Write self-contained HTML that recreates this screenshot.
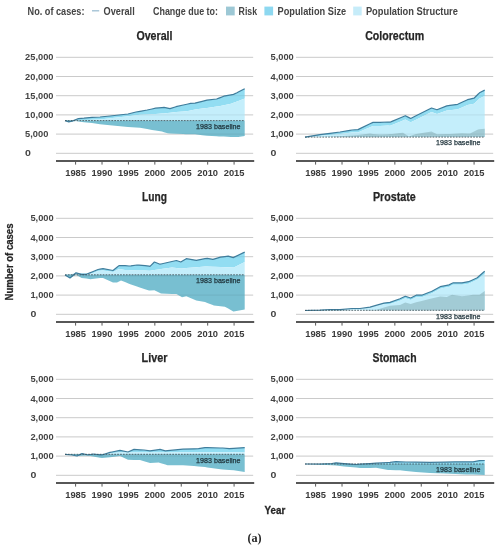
<!DOCTYPE html>
<html><head><meta charset="utf-8"><style>
html,body{margin:0;padding:0;background:#fff;width:499px;height:550px;overflow:hidden;font-family:"Liberation Sans",sans-serif;}
svg{display:block;will-change:transform;}
</style></head><body>
<svg width="499" height="550" viewBox="0 0 499 550">
<rect width="499" height="550" fill="#ffffff"/>
<text x="27.60" y="14.50" font-family="Liberation Sans" font-size="10.3" font-weight="bold" fill="#444444" textLength="56.90" lengthAdjust="spacingAndGlyphs">No. of cases:</text>
<line x1="92" y1="10.8" x2="99.2" y2="10.8" stroke="#9dbfd3" stroke-width="1.3"/>
<text x="103.60" y="14.50" font-family="Liberation Sans" font-size="10.3" font-weight="bold" fill="#444444" textLength="31.10" lengthAdjust="spacingAndGlyphs">Overall</text>
<text x="153.00" y="14.50" font-family="Liberation Sans" font-size="10.3" font-weight="bold" fill="#444444" textLength="65.00" lengthAdjust="spacingAndGlyphs">Change due to:</text>
<rect x="226" y="6.6" width="8.7" height="8.8" fill="#9dc8d5"/>
<text x="238.60" y="14.50" font-family="Liberation Sans" font-size="10.3" font-weight="bold" fill="#444444" textLength="18.50" lengthAdjust="spacingAndGlyphs">Risk</text>
<rect x="264.4" y="6.6" width="8.7" height="8.8" fill="#8dd8f0"/>
<text x="277.60" y="14.50" font-family="Liberation Sans" font-size="10.3" font-weight="bold" fill="#444444" textLength="68.60" lengthAdjust="spacingAndGlyphs">Population Size</text>
<rect x="353.2" y="6.6" width="8.5" height="8.8" fill="#c6ecf9"/>
<text x="365.90" y="14.50" font-family="Liberation Sans" font-size="10.3" font-weight="bold" fill="#444444" textLength="92.00" lengthAdjust="spacingAndGlyphs">Population Structure</text>
<g transform="translate(13,262) rotate(-90)"><text x="0" y="0" text-anchor="middle" font-family="Liberation Sans" font-size="10" font-weight="bold" fill="#262626" stroke="#262626" stroke-width="0.25" textLength="77" lengthAdjust="spacingAndGlyphs">Number of cases</text></g>
<text x="264.60" y="513.90" font-family="Liberation Sans" font-size="10" font-weight="bold" fill="#262626" textLength="20.60" lengthAdjust="spacingAndGlyphs" stroke="#262626" stroke-width="0.3">Year</text>
<text x="247.40" y="542.20" font-family="Liberation Serif" font-size="11.6" font-weight="bold" fill="#262626" textLength="14.20" lengthAdjust="spacingAndGlyphs">(a)</text>
<text x="136.40" y="40.20" font-family="Liberation Sans" font-size="12.3" font-weight="bold" fill="#262626" textLength="36.10" lengthAdjust="spacingAndGlyphs" stroke="#262626" stroke-width="0.25">Overall</text>
<text x="25.10" y="60.40" font-family="Liberation Sans" font-size="9.5" font-weight="bold" fill="#444444" textLength="28.35" lengthAdjust="spacingAndGlyphs">25,000</text>
<text x="25.10" y="79.60" font-family="Liberation Sans" font-size="9.5" font-weight="bold" fill="#444444" textLength="28.35" lengthAdjust="spacingAndGlyphs">20,000</text>
<text x="25.10" y="98.80" font-family="Liberation Sans" font-size="9.5" font-weight="bold" fill="#444444" textLength="28.35" lengthAdjust="spacingAndGlyphs">15,000</text>
<text x="25.10" y="118.00" font-family="Liberation Sans" font-size="9.5" font-weight="bold" fill="#444444" textLength="28.35" lengthAdjust="spacingAndGlyphs">10,000</text>
<text x="25.10" y="137.20" font-family="Liberation Sans" font-size="9.5" font-weight="bold" fill="#444444" textLength="23.30" lengthAdjust="spacingAndGlyphs">5,000</text>
<text x="25.10" y="156.40" font-family="Liberation Sans" font-size="9.5" font-weight="bold" fill="#444444" textLength="5.90" lengthAdjust="spacingAndGlyphs">0</text>
<line x1="56" y1="57.30" x2="253.2" y2="57.30" stroke="#dadada" stroke-width="1"/>
<line x1="56" y1="76.50" x2="253.2" y2="76.50" stroke="#dadada" stroke-width="1"/>
<line x1="56" y1="95.70" x2="253.2" y2="95.70" stroke="#dadada" stroke-width="1"/>
<line x1="56" y1="114.90" x2="253.2" y2="114.90" stroke="#dadada" stroke-width="1"/>
<line x1="56" y1="134.10" x2="253.2" y2="134.10" stroke="#dadada" stroke-width="1"/>
<line x1="56" y1="153.30" x2="253.2" y2="153.30" stroke="#dadada" stroke-width="1"/>
<polygon fill="#92ddf2" points="65.0,120.6 68.8,121.9 72.8,120.8 76.0,119.5 78.4,118.6 84.0,118.2 92.0,117.4 100.0,117.0 110.0,116.0 128.0,114.0 136.0,112.0 140.0,111.3 147.2,110.0 152.0,109.0 155.6,108.2 162.0,107.6 164.0,107.4 167.6,108.1 170.0,108.6 176.0,106.7 183.3,105.0 185.7,104.5 188.0,104.0 190.5,103.4 195.0,103.2 202.2,101.4 207.0,100.2 216.6,99.0 219.0,98.1 223.8,96.2 231.0,94.9 233.5,94.4 237.0,92.7 238.3,92.0 244.7,88.7 244.7,98.5 238.3,101.0 237.0,101.5 233.5,102.8 231.0,103.8 223.8,105.2 219.0,106.2 216.6,106.6 207.0,108.0 202.2,108.6 195.0,109.6 190.5,110.4 188.0,110.9 185.7,111.3 183.3,111.5 176.0,112.0 170.0,112.8 167.6,113.0 164.0,113.5 162.0,113.6 155.6,114.0 152.0,114.2 147.2,114.4 140.0,114.8 136.0,115.3 128.0,116.2 110.0,118.2 100.0,119.4 92.0,119.7 84.0,120.0 78.4,120.2 76.0,120.3 72.8,120.4 68.8,120.5 65.0,120.6"/>
<polygon fill="#c4eefb" points="65.0,120.6 68.8,120.5 72.8,120.4 76.0,120.3 78.4,120.2 84.0,120.0 92.0,119.7 100.0,119.4 110.0,118.2 128.0,116.2 136.0,115.3 140.0,114.8 147.2,114.4 152.0,114.2 155.6,114.0 162.0,113.6 164.0,113.5 167.6,113.0 170.0,112.8 176.0,112.0 183.3,111.5 185.7,111.3 188.0,110.9 190.5,110.4 195.0,109.6 202.2,108.6 207.0,108.0 216.6,106.6 219.0,106.2 223.8,105.2 231.0,103.8 233.5,102.8 237.0,101.5 238.3,101.0 244.7,98.5 244.7,120.6 238.3,120.6 237.0,120.6 233.5,120.6 231.0,120.6 223.8,120.6 219.0,120.6 216.6,120.6 207.0,120.6 202.2,120.6 195.0,120.6 190.5,120.6 188.0,120.6 185.7,120.6 183.3,120.6 176.0,120.6 170.0,120.6 167.6,120.6 164.0,120.6 162.0,120.6 155.6,120.6 152.0,120.6 147.2,120.6 140.0,120.6 136.0,120.6 128.0,120.6 110.0,120.6 100.0,120.6 92.0,120.6 84.0,120.6 78.4,120.6 76.0,120.6 72.8,120.6 68.8,120.6 65.0,120.6"/>
<polygon fill="#78bfd1" points="65.0,120.6 68.8,120.6 72.8,120.6 76.0,120.6 78.4,120.6 84.0,120.6 92.0,120.6 100.0,120.6 110.0,120.6 128.0,120.6 136.0,120.6 140.0,120.6 147.2,120.6 152.0,120.6 155.6,120.6 162.0,120.6 164.0,120.6 167.6,120.6 170.0,120.6 176.0,120.6 183.3,120.6 185.7,120.6 188.0,120.6 190.5,120.6 195.0,120.6 202.2,120.6 207.0,120.6 216.6,120.6 219.0,120.6 223.8,120.6 231.0,120.6 233.5,120.6 237.0,120.6 238.3,120.6 244.7,120.6 244.7,136.0 238.3,136.9 237.0,137.1 233.5,137.0 231.0,137.0 223.8,136.6 219.0,136.4 216.6,136.3 207.0,135.8 202.2,135.2 195.0,134.2 190.5,134.3 188.0,134.3 185.7,134.2 183.3,134.1 176.0,133.8 170.0,133.4 167.6,133.2 164.0,132.2 162.0,131.6 155.6,130.5 152.0,129.9 147.2,129.1 140.0,127.8 136.0,127.5 128.0,127.0 110.0,125.3 100.0,124.3 92.0,123.0 84.0,122.3 78.4,121.4 76.0,121.0 72.8,121.4 68.8,121.9 65.0,120.6"/>
<polygon fill="#a2cbd5" points="65.0,120.6 68.8,120.6 72.8,120.6 76.0,120.6 78.4,120.6 84.0,120.6 92.0,120.6 100.0,120.6 110.0,120.6 128.0,120.6 136.0,120.6 140.0,120.6 147.2,120.6 152.0,120.6 155.6,120.6 162.0,120.6 164.0,120.6 167.6,120.6 170.0,120.6 176.0,120.6 183.3,120.6 185.7,120.6 188.0,120.6 190.5,120.6 195.0,120.6 202.2,120.6 207.0,120.6 216.6,120.6 219.0,120.6 223.8,120.6 231.0,120.6 233.5,120.6 237.0,120.6 238.3,120.6 244.7,120.6 244.7,120.6 238.3,120.6 237.0,120.6 233.5,120.6 231.0,120.6 223.8,120.6 219.0,120.6 216.6,120.6 207.0,120.6 202.2,120.6 195.0,120.6 190.5,120.6 188.0,120.6 185.7,120.6 183.3,120.6 176.0,120.6 170.0,120.6 167.6,120.6 164.0,120.6 162.0,120.6 155.6,120.6 152.0,120.6 147.2,120.6 140.0,120.6 136.0,120.6 128.0,120.6 110.0,120.6 100.0,120.6 92.0,120.6 84.0,120.6 78.4,120.6 76.0,120.6 72.8,120.6 68.8,120.6 65.0,120.6"/>
<line x1="56" y1="57.30" x2="253.2" y2="57.30" stroke="#000" stroke-opacity="0.07" stroke-width="1"/>
<line x1="56" y1="76.50" x2="253.2" y2="76.50" stroke="#000" stroke-opacity="0.07" stroke-width="1"/>
<line x1="56" y1="95.70" x2="253.2" y2="95.70" stroke="#000" stroke-opacity="0.07" stroke-width="1"/>
<line x1="56" y1="114.90" x2="253.2" y2="114.90" stroke="#000" stroke-opacity="0.07" stroke-width="1"/>
<line x1="56" y1="134.10" x2="253.2" y2="134.10" stroke="#000" stroke-opacity="0.07" stroke-width="1"/>
<line x1="56" y1="153.30" x2="253.2" y2="153.30" stroke="#000" stroke-opacity="0.07" stroke-width="1"/>
<polyline fill="none" stroke="#3f7d9c" stroke-width="1.2" stroke-linejoin="round" points="65.0,120.6 68.8,121.9 72.8,120.8 76.0,119.5 78.4,118.6 84.0,118.2 92.0,117.4 100.0,117.0 110.0,116.0 128.0,114.0 136.0,112.0 140.0,111.3 147.2,110.0 152.0,109.0 155.6,108.2 162.0,107.6 164.0,107.4 167.6,108.1 170.0,108.6 176.0,106.7 183.3,105.0 185.7,104.5 188.0,104.0 190.5,103.4 195.0,103.2 202.2,101.4 207.0,100.2 216.6,99.0 219.0,98.1 223.8,96.2 231.0,94.9 233.5,94.4 237.0,92.7 238.3,92.0 244.7,88.7"/>
<line x1="65.0" y1="120.60" x2="244.7" y2="120.60" stroke="#3a4a50" stroke-width="0.8" stroke-dasharray="1.7 1.2"/>
<text x="196.10" y="128.80" font-family="Liberation Sans" font-size="7.4" font-weight="normal" fill="#1f333b" textLength="44.40" lengthAdjust="spacingAndGlyphs" stroke="#1f333b" stroke-width="0.25">1983 baseline</text>
<line x1="56" y1="161.00" x2="254.2" y2="161.00" stroke="#575757" stroke-width="1.8"/>
<line x1="75.60" y1="161.00" x2="75.60" y2="164.60" stroke="#575757" stroke-width="1"/>
<text x="65.20" y="175.50" font-family="Liberation Sans" font-size="9.6" font-weight="bold" fill="#3a3a3a" textLength="20.80" lengthAdjust="spacingAndGlyphs">1985</text>
<line x1="102.02" y1="161.00" x2="102.02" y2="164.60" stroke="#575757" stroke-width="1"/>
<text x="91.61" y="175.50" font-family="Liberation Sans" font-size="9.6" font-weight="bold" fill="#3a3a3a" textLength="20.80" lengthAdjust="spacingAndGlyphs">1990</text>
<line x1="128.43" y1="161.00" x2="128.43" y2="164.60" stroke="#575757" stroke-width="1"/>
<text x="118.03" y="175.50" font-family="Liberation Sans" font-size="9.6" font-weight="bold" fill="#3a3a3a" textLength="20.80" lengthAdjust="spacingAndGlyphs">1995</text>
<line x1="154.84" y1="161.00" x2="154.84" y2="164.60" stroke="#575757" stroke-width="1"/>
<text x="144.44" y="175.50" font-family="Liberation Sans" font-size="9.6" font-weight="bold" fill="#3a3a3a" textLength="20.80" lengthAdjust="spacingAndGlyphs">2000</text>
<line x1="181.26" y1="161.00" x2="181.26" y2="164.60" stroke="#575757" stroke-width="1"/>
<text x="170.86" y="175.50" font-family="Liberation Sans" font-size="9.6" font-weight="bold" fill="#3a3a3a" textLength="20.80" lengthAdjust="spacingAndGlyphs">2005</text>
<line x1="207.68" y1="161.00" x2="207.68" y2="164.60" stroke="#575757" stroke-width="1"/>
<text x="197.28" y="175.50" font-family="Liberation Sans" font-size="9.6" font-weight="bold" fill="#3a3a3a" textLength="20.80" lengthAdjust="spacingAndGlyphs">2010</text>
<line x1="234.09" y1="161.00" x2="234.09" y2="164.60" stroke="#575757" stroke-width="1"/>
<text x="223.69" y="175.50" font-family="Liberation Sans" font-size="9.6" font-weight="bold" fill="#3a3a3a" textLength="20.80" lengthAdjust="spacingAndGlyphs">2015</text>
<text x="365.20" y="40.30" font-family="Liberation Sans" font-size="12.3" font-weight="bold" fill="#262626" textLength="58.90" lengthAdjust="spacingAndGlyphs" stroke="#262626" stroke-width="0.25">Colorectum</text>
<text x="270.50" y="60.40" font-family="Liberation Sans" font-size="9.5" font-weight="bold" fill="#444444" textLength="23.30" lengthAdjust="spacingAndGlyphs">5,000</text>
<text x="270.50" y="79.60" font-family="Liberation Sans" font-size="9.5" font-weight="bold" fill="#444444" textLength="23.30" lengthAdjust="spacingAndGlyphs">4,000</text>
<text x="270.50" y="98.80" font-family="Liberation Sans" font-size="9.5" font-weight="bold" fill="#444444" textLength="23.30" lengthAdjust="spacingAndGlyphs">3,000</text>
<text x="270.50" y="118.00" font-family="Liberation Sans" font-size="9.5" font-weight="bold" fill="#444444" textLength="23.30" lengthAdjust="spacingAndGlyphs">2,000</text>
<text x="270.50" y="137.20" font-family="Liberation Sans" font-size="9.5" font-weight="bold" fill="#444444" textLength="23.30" lengthAdjust="spacingAndGlyphs">1,000</text>
<text x="270.50" y="156.40" font-family="Liberation Sans" font-size="9.5" font-weight="bold" fill="#444444" textLength="5.90" lengthAdjust="spacingAndGlyphs">0</text>
<line x1="296" y1="57.30" x2="493.2" y2="57.30" stroke="#dadada" stroke-width="1"/>
<line x1="296" y1="76.50" x2="493.2" y2="76.50" stroke="#dadada" stroke-width="1"/>
<line x1="296" y1="95.70" x2="493.2" y2="95.70" stroke="#dadada" stroke-width="1"/>
<line x1="296" y1="114.90" x2="493.2" y2="114.90" stroke="#dadada" stroke-width="1"/>
<line x1="296" y1="134.10" x2="493.2" y2="134.10" stroke="#dadada" stroke-width="1"/>
<line x1="296" y1="153.30" x2="493.2" y2="153.30" stroke="#dadada" stroke-width="1"/>
<polygon fill="#92ddf2" points="305.0,137.1 320.0,134.6 330.0,133.3 340.0,132.0 350.0,130.3 352.0,130.0 358.0,129.6 360.0,128.6 370.0,123.8 373.0,122.4 380.0,122.4 388.0,122.0 390.0,122.2 392.0,121.4 400.0,118.0 403.0,116.7 405.3,115.7 409.0,117.6 410.7,118.5 416.0,115.8 431.5,108.0 437.0,109.8 446.8,105.9 450.0,105.4 457.7,104.3 462.0,102.3 467.5,99.7 470.0,99.1 474.0,98.2 478.0,94.3 479.5,92.8 484.7,90.1 484.7,96.1 479.5,98.6 478.0,100.0 474.0,103.8 470.0,104.6 467.5,105.1 462.0,107.5 457.7,109.3 450.0,110.2 446.8,110.5 437.0,114.0 431.5,112.0 416.0,119.7 410.7,122.3 409.0,121.4 405.3,119.5 403.0,120.5 400.0,121.7 392.0,125.0 390.0,125.8 388.0,125.6 380.0,126.0 373.0,125.9 370.0,127.2 360.0,131.5 358.0,132.4 352.0,132.5 350.0,132.8 340.0,134.0 330.0,134.9 320.0,135.7 305.0,137.6"/>
<polygon fill="#c4eefb" points="305.0,137.6 320.0,135.7 330.0,134.9 340.0,134.0 350.0,132.8 352.0,132.5 358.0,132.4 360.0,131.5 370.0,127.2 373.0,125.9 380.0,126.0 388.0,125.6 390.0,125.8 392.0,125.0 400.0,121.7 403.0,120.5 405.3,119.5 409.0,121.4 410.7,122.3 416.0,119.7 431.5,112.0 437.0,114.0 446.8,110.5 450.0,110.2 457.7,109.3 462.0,107.5 467.5,105.1 470.0,104.6 474.0,103.8 478.0,100.0 479.5,98.6 484.7,96.1 484.7,137.1 479.5,137.1 478.0,137.1 474.0,137.1 470.0,137.1 467.5,137.1 462.0,137.1 457.7,137.1 450.0,137.1 446.8,137.1 437.0,137.1 431.5,137.1 416.0,137.1 410.7,137.1 409.0,137.1 405.3,137.1 403.0,137.1 400.0,137.1 392.0,137.1 390.0,137.1 388.0,137.1 380.0,137.1 373.0,137.1 370.0,137.1 360.0,137.1 358.0,137.1 352.0,137.1 350.0,137.1 340.0,137.1 330.0,137.1 320.0,137.1 305.0,137.1"/>
<polygon fill="#78bfd1" points="305.0,137.1 320.0,137.1 330.0,137.1 340.0,137.1 350.0,137.1 352.0,137.1 358.0,137.1 360.0,137.1 370.0,137.1 373.0,137.1 380.0,137.1 388.0,137.1 390.0,137.1 392.0,137.1 400.0,137.1 403.0,137.1 405.3,137.1 409.0,137.1 410.7,137.1 416.0,137.1 431.5,137.1 437.0,137.1 446.8,137.1 450.0,137.1 457.7,137.1 462.0,137.1 467.5,137.1 470.0,137.1 474.0,137.1 478.0,137.1 479.5,137.1 484.7,137.1 484.7,137.1 479.5,137.1 478.0,137.1 474.0,137.1 470.0,137.1 467.5,137.1 462.0,137.1 457.7,137.1 450.0,137.1 446.8,137.1 437.0,137.1 431.5,137.1 416.0,137.1 410.7,137.1 409.0,137.1 405.3,137.1 403.0,137.1 400.0,137.1 392.0,137.1 390.0,137.1 388.0,137.1 380.0,137.1 373.0,137.1 370.0,137.1 360.0,137.1 358.0,137.1 352.0,137.1 350.0,137.1 340.0,137.1 330.0,137.1 320.0,137.1 305.0,137.1"/>
<polygon fill="#a2cbd5" points="305.0,137.1 320.0,136.9 330.0,136.8 340.0,136.2 350.0,135.5 352.0,135.4 358.0,134.9 360.0,134.8 370.0,133.6 373.0,133.9 380.0,134.6 388.0,134.2 390.0,134.1 392.0,134.0 400.0,133.1 403.0,132.8 405.3,134.2 409.0,136.4 410.7,135.8 416.0,134.0 431.5,131.4 437.0,134.2 446.8,134.0 450.0,134.0 457.7,133.5 462.0,133.2 467.5,133.4 470.0,133.5 474.0,131.5 478.0,129.5 479.5,129.3 484.7,128.7 484.7,137.1 479.5,137.1 478.0,137.1 474.0,137.1 470.0,137.1 467.5,137.1 462.0,137.1 457.7,137.1 450.0,137.1 446.8,137.1 437.0,137.1 431.5,137.1 416.0,137.1 410.7,137.1 409.0,137.1 405.3,137.1 403.0,137.1 400.0,137.1 392.0,137.1 390.0,137.1 388.0,137.1 380.0,137.1 373.0,137.1 370.0,137.1 360.0,137.1 358.0,137.1 352.0,137.1 350.0,137.1 340.0,137.1 330.0,137.1 320.0,137.1 305.0,137.1"/>
<line x1="296" y1="57.30" x2="493.2" y2="57.30" stroke="#000" stroke-opacity="0.07" stroke-width="1"/>
<line x1="296" y1="76.50" x2="493.2" y2="76.50" stroke="#000" stroke-opacity="0.07" stroke-width="1"/>
<line x1="296" y1="95.70" x2="493.2" y2="95.70" stroke="#000" stroke-opacity="0.07" stroke-width="1"/>
<line x1="296" y1="114.90" x2="493.2" y2="114.90" stroke="#000" stroke-opacity="0.07" stroke-width="1"/>
<line x1="296" y1="134.10" x2="493.2" y2="134.10" stroke="#000" stroke-opacity="0.07" stroke-width="1"/>
<line x1="296" y1="153.30" x2="493.2" y2="153.30" stroke="#000" stroke-opacity="0.07" stroke-width="1"/>
<polyline fill="none" stroke="#3f7d9c" stroke-width="1.2" stroke-linejoin="round" points="305.0,137.1 320.0,134.6 330.0,133.3 340.0,132.0 350.0,130.3 352.0,130.0 358.0,129.6 360.0,128.6 370.0,123.8 373.0,122.4 380.0,122.4 388.0,122.0 390.0,122.2 392.0,121.4 400.0,118.0 403.0,116.7 405.3,115.7 409.0,117.6 410.7,118.5 416.0,115.8 431.5,108.0 437.0,109.8 446.8,105.9 450.0,105.4 457.7,104.3 462.0,102.3 467.5,99.7 470.0,99.1 474.0,98.2 478.0,94.3 479.5,92.8 484.7,90.1"/>
<line x1="305.0" y1="137.10" x2="484.7" y2="137.10" stroke="#3a4a50" stroke-width="0.8" stroke-dasharray="1.7 1.2"/>
<text x="436.10" y="145.30" font-family="Liberation Sans" font-size="7.4" font-weight="normal" fill="#1f333b" textLength="44.40" lengthAdjust="spacingAndGlyphs" stroke="#1f333b" stroke-width="0.25">1983 baseline</text>
<line x1="296" y1="161.00" x2="494.2" y2="161.00" stroke="#575757" stroke-width="1.8"/>
<line x1="315.60" y1="161.00" x2="315.60" y2="164.60" stroke="#575757" stroke-width="1"/>
<text x="305.20" y="175.50" font-family="Liberation Sans" font-size="9.6" font-weight="bold" fill="#3a3a3a" textLength="20.80" lengthAdjust="spacingAndGlyphs">1985</text>
<line x1="342.02" y1="161.00" x2="342.02" y2="164.60" stroke="#575757" stroke-width="1"/>
<text x="331.62" y="175.50" font-family="Liberation Sans" font-size="9.6" font-weight="bold" fill="#3a3a3a" textLength="20.80" lengthAdjust="spacingAndGlyphs">1990</text>
<line x1="368.43" y1="161.00" x2="368.43" y2="164.60" stroke="#575757" stroke-width="1"/>
<text x="358.03" y="175.50" font-family="Liberation Sans" font-size="9.6" font-weight="bold" fill="#3a3a3a" textLength="20.80" lengthAdjust="spacingAndGlyphs">1995</text>
<line x1="394.85" y1="161.00" x2="394.85" y2="164.60" stroke="#575757" stroke-width="1"/>
<text x="384.45" y="175.50" font-family="Liberation Sans" font-size="9.6" font-weight="bold" fill="#3a3a3a" textLength="20.80" lengthAdjust="spacingAndGlyphs">2000</text>
<line x1="421.26" y1="161.00" x2="421.26" y2="164.60" stroke="#575757" stroke-width="1"/>
<text x="410.86" y="175.50" font-family="Liberation Sans" font-size="9.6" font-weight="bold" fill="#3a3a3a" textLength="20.80" lengthAdjust="spacingAndGlyphs">2005</text>
<line x1="447.68" y1="161.00" x2="447.68" y2="164.60" stroke="#575757" stroke-width="1"/>
<text x="437.28" y="175.50" font-family="Liberation Sans" font-size="9.6" font-weight="bold" fill="#3a3a3a" textLength="20.80" lengthAdjust="spacingAndGlyphs">2010</text>
<line x1="474.09" y1="161.00" x2="474.09" y2="164.60" stroke="#575757" stroke-width="1"/>
<text x="463.69" y="175.50" font-family="Liberation Sans" font-size="9.6" font-weight="bold" fill="#3a3a3a" textLength="20.80" lengthAdjust="spacingAndGlyphs">2015</text>
<text x="142.10" y="201.00" font-family="Liberation Sans" font-size="12.3" font-weight="bold" fill="#262626" textLength="24.90" lengthAdjust="spacingAndGlyphs" stroke="#262626" stroke-width="0.25">Lung</text>
<text x="30.40" y="221.40" font-family="Liberation Sans" font-size="9.5" font-weight="bold" fill="#444444" textLength="23.30" lengthAdjust="spacingAndGlyphs">5,000</text>
<text x="30.40" y="240.60" font-family="Liberation Sans" font-size="9.5" font-weight="bold" fill="#444444" textLength="23.30" lengthAdjust="spacingAndGlyphs">4,000</text>
<text x="30.40" y="259.80" font-family="Liberation Sans" font-size="9.5" font-weight="bold" fill="#444444" textLength="23.30" lengthAdjust="spacingAndGlyphs">3,000</text>
<text x="30.40" y="279.00" font-family="Liberation Sans" font-size="9.5" font-weight="bold" fill="#444444" textLength="23.30" lengthAdjust="spacingAndGlyphs">2,000</text>
<text x="30.40" y="298.20" font-family="Liberation Sans" font-size="9.5" font-weight="bold" fill="#444444" textLength="23.30" lengthAdjust="spacingAndGlyphs">1,000</text>
<text x="30.40" y="317.40" font-family="Liberation Sans" font-size="9.5" font-weight="bold" fill="#444444" textLength="5.90" lengthAdjust="spacingAndGlyphs">0</text>
<line x1="56" y1="218.30" x2="253.2" y2="218.30" stroke="#dadada" stroke-width="1"/>
<line x1="56" y1="237.50" x2="253.2" y2="237.50" stroke="#dadada" stroke-width="1"/>
<line x1="56" y1="256.70" x2="253.2" y2="256.70" stroke="#dadada" stroke-width="1"/>
<line x1="56" y1="275.90" x2="253.2" y2="275.90" stroke="#dadada" stroke-width="1"/>
<line x1="56" y1="295.10" x2="253.2" y2="295.10" stroke="#dadada" stroke-width="1"/>
<line x1="56" y1="314.30" x2="253.2" y2="314.30" stroke="#dadada" stroke-width="1"/>
<polygon fill="#92ddf2" points="65.0,275.0 70.0,278.0 76.0,272.8 81.6,274.3 86.4,274.3 90.5,272.6 92.0,272.0 98.0,269.5 100.0,269.2 103.0,268.7 113.0,270.5 117.0,267.2 119.0,265.6 121.0,265.6 125.0,265.6 129.0,266.0 131.0,265.8 137.0,265.0 139.0,265.1 145.0,265.6 149.0,266.2 150.0,266.4 154.4,262.0 160.0,264.2 161.0,264.0 172.0,261.5 176.4,260.5 180.8,262.0 182.0,261.3 186.3,258.7 196.3,260.3 205.0,258.7 207.3,258.3 212.8,259.4 213.9,259.1 220.5,257.2 224.9,256.6 228.2,256.1 233.3,257.6 233.7,257.4 244.7,252.1 244.7,262.0 233.7,267.5 233.3,267.5 228.2,267.3 224.9,267.2 220.5,267.0 213.9,266.7 212.8,266.7 207.3,266.5 205.0,266.4 196.3,267.2 186.3,268.1 182.0,268.5 180.8,268.6 176.4,268.1 172.0,267.5 161.0,269.1 160.0,269.3 154.4,270.1 150.0,270.8 149.0,270.8 145.0,270.6 139.0,270.4 137.0,270.4 131.0,270.2 129.0,270.1 125.0,270.0 121.0,269.3 119.0,269.0 117.0,270.0 113.0,272.0 103.0,270.5 100.0,270.8 98.0,271.0 92.0,273.5 90.5,273.5 86.4,273.5 81.6,273.5 76.0,273.5 70.0,274.3 65.0,275.0"/>
<polygon fill="#c4eefb" points="65.0,275.0 70.0,274.3 76.0,273.5 81.6,273.5 86.4,273.5 90.5,273.5 92.0,273.5 98.0,271.0 100.0,270.8 103.0,270.5 113.0,272.0 117.0,270.0 119.0,269.0 121.0,269.3 125.0,270.0 129.0,270.1 131.0,270.2 137.0,270.4 139.0,270.4 145.0,270.6 149.0,270.8 150.0,270.8 154.4,270.1 160.0,269.3 161.0,269.1 172.0,267.5 176.4,268.1 180.8,268.6 182.0,268.5 186.3,268.1 196.3,267.2 205.0,266.4 207.3,266.5 212.8,266.7 213.9,266.7 220.5,267.0 224.9,267.2 228.2,267.3 233.3,267.5 233.7,267.5 244.7,262.0 244.7,274.8 233.7,274.8 233.3,274.8 228.2,274.8 224.9,274.8 220.5,274.8 213.9,274.8 212.8,274.8 207.3,274.8 205.0,274.8 196.3,274.8 186.3,274.8 182.0,274.8 180.8,274.8 176.4,274.8 172.0,274.8 161.0,274.8 160.0,274.8 154.4,274.8 150.0,274.8 149.0,274.8 145.0,274.8 139.0,274.8 137.0,274.8 131.0,274.8 129.0,274.8 125.0,274.8 121.0,274.8 119.0,274.8 117.0,274.8 113.0,274.8 103.0,274.8 100.0,274.8 98.0,274.8 92.0,274.8 90.5,274.8 86.4,274.8 81.6,274.8 76.0,274.8 70.0,274.8 65.0,274.8"/>
<polygon fill="#78bfd1" points="65.0,274.8 70.0,274.8 76.0,274.8 81.6,274.8 86.4,274.8 90.5,274.8 92.0,274.8 98.0,274.8 100.0,274.8 103.0,274.8 113.0,274.8 117.0,274.8 119.0,274.8 121.0,274.8 125.0,274.8 129.0,274.8 131.0,274.8 137.0,274.8 139.0,274.8 145.0,274.8 149.0,274.8 150.0,274.8 154.4,274.8 160.0,274.8 161.0,274.8 172.0,274.8 176.4,274.8 180.8,274.8 182.0,274.8 186.3,274.8 196.3,274.8 205.0,274.8 207.3,274.8 212.8,274.8 213.9,274.8 220.5,274.8 224.9,274.8 228.2,274.8 233.3,274.8 233.7,274.8 244.7,274.8 244.7,309.4 233.7,311.6 233.3,311.4 228.2,308.5 224.9,306.7 220.5,306.2 213.9,305.4 212.8,305.0 207.3,303.0 205.0,302.1 196.3,300.6 186.3,296.2 182.0,297.3 180.8,296.6 176.4,294.0 172.0,293.9 161.0,293.5 160.0,293.0 154.4,290.2 150.0,290.4 149.0,290.5 145.0,289.2 139.0,287.3 137.0,286.6 131.0,284.5 129.0,283.7 125.0,282.1 121.0,280.5 119.0,281.6 117.0,282.6 113.0,282.5 103.0,278.0 100.0,278.0 98.0,278.3 92.0,279.0 90.5,279.2 86.4,278.6 81.6,278.0 76.0,274.8 70.0,278.0 65.0,275.0"/>
<polygon fill="#a2cbd5" points="65.0,274.8 70.0,274.8 76.0,273.5 81.6,274.8 86.4,274.8 90.5,274.8 92.0,274.8 98.0,274.8 100.0,274.8 103.0,274.8 113.0,274.8 117.0,274.8 119.0,274.8 121.0,274.8 125.0,274.8 129.0,274.8 131.0,274.8 137.0,274.8 139.0,274.8 145.0,274.8 149.0,274.8 150.0,274.8 154.4,274.8 160.0,274.8 161.0,274.8 172.0,274.8 176.4,274.8 180.8,274.8 182.0,274.8 186.3,274.8 196.3,274.8 205.0,274.8 207.3,274.8 212.8,274.8 213.9,274.8 220.5,274.8 224.9,274.8 228.2,274.8 233.3,274.8 233.7,274.8 244.7,274.8 244.7,274.8 233.7,274.8 233.3,274.8 228.2,274.8 224.9,274.8 220.5,274.8 213.9,274.8 212.8,274.8 207.3,274.8 205.0,274.8 196.3,274.8 186.3,274.8 182.0,274.8 180.8,274.8 176.4,274.8 172.0,274.8 161.0,274.8 160.0,274.8 154.4,274.8 150.0,274.8 149.0,274.8 145.0,274.8 139.0,274.8 137.0,274.8 131.0,274.8 129.0,274.8 125.0,274.8 121.0,274.8 119.0,274.8 117.0,274.8 113.0,274.8 103.0,274.8 100.0,274.8 98.0,274.8 92.0,274.8 90.5,274.8 86.4,274.8 81.6,274.8 76.0,274.8 70.0,274.8 65.0,274.8"/>
<line x1="56" y1="218.30" x2="253.2" y2="218.30" stroke="#000" stroke-opacity="0.07" stroke-width="1"/>
<line x1="56" y1="237.50" x2="253.2" y2="237.50" stroke="#000" stroke-opacity="0.07" stroke-width="1"/>
<line x1="56" y1="256.70" x2="253.2" y2="256.70" stroke="#000" stroke-opacity="0.07" stroke-width="1"/>
<line x1="56" y1="275.90" x2="253.2" y2="275.90" stroke="#000" stroke-opacity="0.07" stroke-width="1"/>
<line x1="56" y1="295.10" x2="253.2" y2="295.10" stroke="#000" stroke-opacity="0.07" stroke-width="1"/>
<line x1="56" y1="314.30" x2="253.2" y2="314.30" stroke="#000" stroke-opacity="0.07" stroke-width="1"/>
<polyline fill="none" stroke="#3f7d9c" stroke-width="1.2" stroke-linejoin="round" points="65.0,275.0 70.0,278.0 76.0,272.8 81.6,274.3 86.4,274.3 90.5,272.6 92.0,272.0 98.0,269.5 100.0,269.2 103.0,268.7 113.0,270.5 117.0,267.2 119.0,265.6 121.0,265.6 125.0,265.6 129.0,266.0 131.0,265.8 137.0,265.0 139.0,265.1 145.0,265.6 149.0,266.2 150.0,266.4 154.4,262.0 160.0,264.2 161.0,264.0 172.0,261.5 176.4,260.5 180.8,262.0 182.0,261.3 186.3,258.7 196.3,260.3 205.0,258.7 207.3,258.3 212.8,259.4 213.9,259.1 220.5,257.2 224.9,256.6 228.2,256.1 233.3,257.6 233.7,257.4 244.7,252.1"/>
<line x1="65.0" y1="274.80" x2="244.7" y2="274.80" stroke="#3a4a50" stroke-width="0.8" stroke-dasharray="1.7 1.2"/>
<text x="196.10" y="283.00" font-family="Liberation Sans" font-size="7.4" font-weight="normal" fill="#1f333b" textLength="44.40" lengthAdjust="spacingAndGlyphs" stroke="#1f333b" stroke-width="0.25">1983 baseline</text>
<line x1="56" y1="322.00" x2="254.2" y2="322.00" stroke="#575757" stroke-width="1.8"/>
<line x1="75.60" y1="322.00" x2="75.60" y2="325.60" stroke="#575757" stroke-width="1"/>
<text x="65.20" y="336.50" font-family="Liberation Sans" font-size="9.6" font-weight="bold" fill="#3a3a3a" textLength="20.80" lengthAdjust="spacingAndGlyphs">1985</text>
<line x1="102.02" y1="322.00" x2="102.02" y2="325.60" stroke="#575757" stroke-width="1"/>
<text x="91.61" y="336.50" font-family="Liberation Sans" font-size="9.6" font-weight="bold" fill="#3a3a3a" textLength="20.80" lengthAdjust="spacingAndGlyphs">1990</text>
<line x1="128.43" y1="322.00" x2="128.43" y2="325.60" stroke="#575757" stroke-width="1"/>
<text x="118.03" y="336.50" font-family="Liberation Sans" font-size="9.6" font-weight="bold" fill="#3a3a3a" textLength="20.80" lengthAdjust="spacingAndGlyphs">1995</text>
<line x1="154.84" y1="322.00" x2="154.84" y2="325.60" stroke="#575757" stroke-width="1"/>
<text x="144.44" y="336.50" font-family="Liberation Sans" font-size="9.6" font-weight="bold" fill="#3a3a3a" textLength="20.80" lengthAdjust="spacingAndGlyphs">2000</text>
<line x1="181.26" y1="322.00" x2="181.26" y2="325.60" stroke="#575757" stroke-width="1"/>
<text x="170.86" y="336.50" font-family="Liberation Sans" font-size="9.6" font-weight="bold" fill="#3a3a3a" textLength="20.80" lengthAdjust="spacingAndGlyphs">2005</text>
<line x1="207.68" y1="322.00" x2="207.68" y2="325.60" stroke="#575757" stroke-width="1"/>
<text x="197.28" y="336.50" font-family="Liberation Sans" font-size="9.6" font-weight="bold" fill="#3a3a3a" textLength="20.80" lengthAdjust="spacingAndGlyphs">2010</text>
<line x1="234.09" y1="322.00" x2="234.09" y2="325.60" stroke="#575757" stroke-width="1"/>
<text x="223.69" y="336.50" font-family="Liberation Sans" font-size="9.6" font-weight="bold" fill="#3a3a3a" textLength="20.80" lengthAdjust="spacingAndGlyphs">2015</text>
<text x="372.90" y="201.10" font-family="Liberation Sans" font-size="12.3" font-weight="bold" fill="#262626" textLength="42.90" lengthAdjust="spacingAndGlyphs" stroke="#262626" stroke-width="0.25">Prostate</text>
<text x="270.50" y="221.40" font-family="Liberation Sans" font-size="9.5" font-weight="bold" fill="#444444" textLength="23.30" lengthAdjust="spacingAndGlyphs">5,000</text>
<text x="270.50" y="240.60" font-family="Liberation Sans" font-size="9.5" font-weight="bold" fill="#444444" textLength="23.30" lengthAdjust="spacingAndGlyphs">4,000</text>
<text x="270.50" y="259.80" font-family="Liberation Sans" font-size="9.5" font-weight="bold" fill="#444444" textLength="23.30" lengthAdjust="spacingAndGlyphs">3,000</text>
<text x="270.50" y="279.00" font-family="Liberation Sans" font-size="9.5" font-weight="bold" fill="#444444" textLength="23.30" lengthAdjust="spacingAndGlyphs">2,000</text>
<text x="270.50" y="298.20" font-family="Liberation Sans" font-size="9.5" font-weight="bold" fill="#444444" textLength="23.30" lengthAdjust="spacingAndGlyphs">1,000</text>
<text x="270.50" y="317.40" font-family="Liberation Sans" font-size="9.5" font-weight="bold" fill="#444444" textLength="5.90" lengthAdjust="spacingAndGlyphs">0</text>
<line x1="296" y1="218.30" x2="493.2" y2="218.30" stroke="#dadada" stroke-width="1"/>
<line x1="296" y1="237.50" x2="493.2" y2="237.50" stroke="#dadada" stroke-width="1"/>
<line x1="296" y1="256.70" x2="493.2" y2="256.70" stroke="#dadada" stroke-width="1"/>
<line x1="296" y1="275.90" x2="493.2" y2="275.90" stroke="#dadada" stroke-width="1"/>
<line x1="296" y1="295.10" x2="493.2" y2="295.10" stroke="#dadada" stroke-width="1"/>
<line x1="296" y1="314.30" x2="493.2" y2="314.30" stroke="#dadada" stroke-width="1"/>
<polygon fill="#92ddf2" points="305.0,310.5 320.0,310.1 330.0,309.5 340.0,309.7 352.0,308.5 360.0,308.5 370.0,307.1 376.0,305.4 384.0,303.1 390.0,302.4 400.0,298.7 405.3,296.3 410.7,298.0 416.2,295.2 418.4,295.2 421.7,295.2 429.3,292.3 431.5,291.5 440.2,286.7 446.8,285.3 449.0,284.9 452.2,283.3 453.3,282.8 462.0,282.8 468.6,281.7 473.0,279.7 477.3,277.7 479.5,275.8 484.7,271.2 484.7,274.0 479.5,278.0 477.3,279.7 473.0,281.7 468.6,283.7 462.0,284.8 453.3,284.8 452.2,285.3 449.0,286.9 446.8,287.3 440.2,288.7 431.5,293.5 429.3,294.3 421.7,297.2 418.4,297.2 416.2,297.2 410.7,300.0 405.3,298.3 400.0,300.7 390.0,303.9 384.0,304.1 376.0,305.8 370.0,307.1 360.0,308.5 352.0,308.5 340.0,309.7 330.0,309.5 320.0,310.1 305.0,310.5"/>
<polygon fill="#c4eefb" points="305.0,310.5 320.0,310.1 330.0,309.5 340.0,309.7 352.0,308.5 360.0,308.5 370.0,307.1 376.0,305.8 384.0,304.1 390.0,303.9 400.0,300.7 405.3,298.3 410.7,300.0 416.2,297.2 418.4,297.2 421.7,297.2 429.3,294.3 431.5,293.5 440.2,288.7 446.8,287.3 449.0,286.9 452.2,285.3 453.3,284.8 462.0,284.8 468.6,283.7 473.0,281.7 477.3,279.7 479.5,278.0 484.7,274.0 484.7,310.3 479.5,310.3 477.3,310.3 473.0,310.3 468.6,310.3 462.0,310.3 453.3,310.3 452.2,310.3 449.0,310.3 446.8,310.3 440.2,310.3 431.5,310.3 429.3,310.3 421.7,310.3 418.4,310.3 416.2,310.3 410.7,310.3 405.3,310.3 400.0,310.3 390.0,310.3 384.0,310.3 376.0,310.3 370.0,310.3 360.0,310.3 352.0,310.3 340.0,310.3 330.0,310.3 320.0,310.3 305.0,310.3"/>
<polygon fill="#78bfd1" points="305.0,310.3 320.0,310.3 330.0,310.3 340.0,310.3 352.0,310.3 360.0,310.3 370.0,310.3 376.0,310.3 384.0,310.3 390.0,310.3 400.0,310.3 405.3,310.3 410.7,310.3 416.2,310.3 418.4,310.3 421.7,310.3 429.3,310.3 431.5,310.3 440.2,310.3 446.8,310.3 449.0,310.3 452.2,310.3 453.3,310.3 462.0,310.3 468.6,310.3 473.0,310.3 477.3,310.3 479.5,310.3 484.7,310.3 484.7,310.3 479.5,310.3 477.3,310.3 473.0,310.3 468.6,310.3 462.0,310.3 453.3,310.3 452.2,310.3 449.0,310.3 446.8,310.3 440.2,310.3 431.5,310.3 429.3,310.3 421.7,310.3 418.4,310.3 416.2,310.3 410.7,310.3 405.3,310.3 400.0,310.3 390.0,310.3 384.0,310.3 376.0,310.3 370.0,310.3 360.0,310.3 352.0,310.3 340.0,310.4 330.0,310.4 320.0,310.4 305.0,310.5"/>
<polygon fill="#a2cbd5" points="305.0,310.3 320.0,310.3 330.0,310.3 340.0,310.3 352.0,310.3 360.0,310.3 370.0,310.1 376.0,310.0 384.0,307.5 390.0,305.7 400.0,305.0 405.3,302.4 410.7,303.9 416.2,302.3 418.4,301.7 421.7,300.9 429.3,299.1 431.5,298.6 440.2,296.5 446.8,296.9 449.0,296.0 452.2,294.8 453.3,295.0 462.0,296.3 468.6,295.4 473.0,294.8 477.3,294.8 479.5,294.8 484.7,291.0 484.7,310.3 479.5,310.3 477.3,310.3 473.0,310.3 468.6,310.3 462.0,310.3 453.3,310.3 452.2,310.3 449.0,310.3 446.8,310.3 440.2,310.3 431.5,310.3 429.3,310.3 421.7,310.3 418.4,310.3 416.2,310.3 410.7,310.3 405.3,310.3 400.0,310.3 390.0,310.3 384.0,310.3 376.0,310.3 370.0,310.3 360.0,310.3 352.0,310.3 340.0,310.3 330.0,310.3 320.0,310.3 305.0,310.3"/>
<line x1="296" y1="218.30" x2="493.2" y2="218.30" stroke="#000" stroke-opacity="0.07" stroke-width="1"/>
<line x1="296" y1="237.50" x2="493.2" y2="237.50" stroke="#000" stroke-opacity="0.07" stroke-width="1"/>
<line x1="296" y1="256.70" x2="493.2" y2="256.70" stroke="#000" stroke-opacity="0.07" stroke-width="1"/>
<line x1="296" y1="275.90" x2="493.2" y2="275.90" stroke="#000" stroke-opacity="0.07" stroke-width="1"/>
<line x1="296" y1="295.10" x2="493.2" y2="295.10" stroke="#000" stroke-opacity="0.07" stroke-width="1"/>
<line x1="296" y1="314.30" x2="493.2" y2="314.30" stroke="#000" stroke-opacity="0.07" stroke-width="1"/>
<polyline fill="none" stroke="#3f7d9c" stroke-width="1.2" stroke-linejoin="round" points="305.0,310.5 320.0,310.1 330.0,309.5 340.0,309.7 352.0,308.5 360.0,308.5 370.0,307.1 376.0,305.4 384.0,303.1 390.0,302.4 400.0,298.7 405.3,296.3 410.7,298.0 416.2,295.2 418.4,295.2 421.7,295.2 429.3,292.3 431.5,291.5 440.2,286.7 446.8,285.3 449.0,284.9 452.2,283.3 453.3,282.8 462.0,282.8 468.6,281.7 473.0,279.7 477.3,277.7 479.5,275.8 484.7,271.2"/>
<line x1="305.0" y1="310.30" x2="484.7" y2="310.30" stroke="#3a4a50" stroke-width="0.8" stroke-dasharray="1.7 1.2"/>
<text x="436.10" y="318.50" font-family="Liberation Sans" font-size="7.4" font-weight="normal" fill="#1f333b" textLength="44.40" lengthAdjust="spacingAndGlyphs" stroke="#1f333b" stroke-width="0.25">1983 baseline</text>
<line x1="296" y1="322.00" x2="494.2" y2="322.00" stroke="#575757" stroke-width="1.8"/>
<line x1="315.60" y1="322.00" x2="315.60" y2="325.60" stroke="#575757" stroke-width="1"/>
<text x="305.20" y="336.50" font-family="Liberation Sans" font-size="9.6" font-weight="bold" fill="#3a3a3a" textLength="20.80" lengthAdjust="spacingAndGlyphs">1985</text>
<line x1="342.02" y1="322.00" x2="342.02" y2="325.60" stroke="#575757" stroke-width="1"/>
<text x="331.62" y="336.50" font-family="Liberation Sans" font-size="9.6" font-weight="bold" fill="#3a3a3a" textLength="20.80" lengthAdjust="spacingAndGlyphs">1990</text>
<line x1="368.43" y1="322.00" x2="368.43" y2="325.60" stroke="#575757" stroke-width="1"/>
<text x="358.03" y="336.50" font-family="Liberation Sans" font-size="9.6" font-weight="bold" fill="#3a3a3a" textLength="20.80" lengthAdjust="spacingAndGlyphs">1995</text>
<line x1="394.85" y1="322.00" x2="394.85" y2="325.60" stroke="#575757" stroke-width="1"/>
<text x="384.45" y="336.50" font-family="Liberation Sans" font-size="9.6" font-weight="bold" fill="#3a3a3a" textLength="20.80" lengthAdjust="spacingAndGlyphs">2000</text>
<line x1="421.26" y1="322.00" x2="421.26" y2="325.60" stroke="#575757" stroke-width="1"/>
<text x="410.86" y="336.50" font-family="Liberation Sans" font-size="9.6" font-weight="bold" fill="#3a3a3a" textLength="20.80" lengthAdjust="spacingAndGlyphs">2005</text>
<line x1="447.68" y1="322.00" x2="447.68" y2="325.60" stroke="#575757" stroke-width="1"/>
<text x="437.28" y="336.50" font-family="Liberation Sans" font-size="9.6" font-weight="bold" fill="#3a3a3a" textLength="20.80" lengthAdjust="spacingAndGlyphs">2010</text>
<line x1="474.09" y1="322.00" x2="474.09" y2="325.60" stroke="#575757" stroke-width="1"/>
<text x="463.69" y="336.50" font-family="Liberation Sans" font-size="9.6" font-weight="bold" fill="#3a3a3a" textLength="20.80" lengthAdjust="spacingAndGlyphs">2015</text>
<text x="141.60" y="361.60" font-family="Liberation Sans" font-size="12.3" font-weight="bold" fill="#262626" textLength="25.90" lengthAdjust="spacingAndGlyphs" stroke="#262626" stroke-width="0.25">Liver</text>
<text x="30.40" y="382.40" font-family="Liberation Sans" font-size="9.5" font-weight="bold" fill="#444444" textLength="23.30" lengthAdjust="spacingAndGlyphs">5,000</text>
<text x="30.40" y="401.60" font-family="Liberation Sans" font-size="9.5" font-weight="bold" fill="#444444" textLength="23.30" lengthAdjust="spacingAndGlyphs">4,000</text>
<text x="30.40" y="420.80" font-family="Liberation Sans" font-size="9.5" font-weight="bold" fill="#444444" textLength="23.30" lengthAdjust="spacingAndGlyphs">3,000</text>
<text x="30.40" y="440.00" font-family="Liberation Sans" font-size="9.5" font-weight="bold" fill="#444444" textLength="23.30" lengthAdjust="spacingAndGlyphs">2,000</text>
<text x="30.40" y="459.20" font-family="Liberation Sans" font-size="9.5" font-weight="bold" fill="#444444" textLength="23.30" lengthAdjust="spacingAndGlyphs">1,000</text>
<text x="30.40" y="478.40" font-family="Liberation Sans" font-size="9.5" font-weight="bold" fill="#444444" textLength="5.90" lengthAdjust="spacingAndGlyphs">0</text>
<line x1="56" y1="379.30" x2="253.2" y2="379.30" stroke="#dadada" stroke-width="1"/>
<line x1="56" y1="398.50" x2="253.2" y2="398.50" stroke="#dadada" stroke-width="1"/>
<line x1="56" y1="417.70" x2="253.2" y2="417.70" stroke="#dadada" stroke-width="1"/>
<line x1="56" y1="436.90" x2="253.2" y2="436.90" stroke="#dadada" stroke-width="1"/>
<line x1="56" y1="456.10" x2="253.2" y2="456.10" stroke="#dadada" stroke-width="1"/>
<line x1="56" y1="475.30" x2="253.2" y2="475.30" stroke="#dadada" stroke-width="1"/>
<polygon fill="#92ddf2" points="65.0,454.4 72.0,455.0 77.0,456.0 82.0,453.6 88.0,455.0 93.0,454.0 100.0,454.8 102.0,455.0 110.0,452.4 112.0,452.0 120.0,450.4 128.0,452.0 134.0,449.4 140.0,449.8 144.0,450.0 150.0,450.9 158.8,449.6 160.0,449.4 165.4,450.9 167.6,450.7 183.0,449.2 194.0,448.8 198.5,448.7 205.0,447.6 207.3,447.7 220.5,448.0 222.7,448.0 229.3,448.7 233.7,448.4 244.7,447.6 244.7,452.2 233.7,452.2 229.3,452.2 222.7,452.3 220.5,452.3 207.3,452.3 205.0,452.3 198.5,452.3 194.0,452.3 183.0,452.3 167.6,452.4 165.4,452.4 160.0,452.4 158.8,452.4 150.0,452.4 144.0,452.4 140.0,452.5 134.0,452.5 128.0,452.5 120.0,452.5 112.0,453.1 110.0,453.2 102.0,453.9 100.0,454.0 93.0,454.1 88.0,454.1 82.0,454.2 77.0,454.2 72.0,454.2 65.0,454.3"/>
<polygon fill="#c4eefb" points="65.0,454.3 72.0,454.2 77.0,454.2 82.0,454.2 88.0,454.1 93.0,454.1 100.0,454.0 102.0,453.9 110.0,453.2 112.0,453.1 120.0,452.5 128.0,452.5 134.0,452.5 140.0,452.5 144.0,452.4 150.0,452.4 158.8,452.4 160.0,452.4 165.4,452.4 167.6,452.4 183.0,452.3 194.0,452.3 198.5,452.3 205.0,452.3 207.3,452.3 220.5,452.3 222.7,452.3 229.3,452.2 233.7,452.2 244.7,452.2 244.7,454.3 233.7,454.3 229.3,454.3 222.7,454.3 220.5,454.3 207.3,454.3 205.0,454.3 198.5,454.3 194.0,454.3 183.0,454.3 167.6,454.3 165.4,454.3 160.0,454.3 158.8,454.3 150.0,454.3 144.0,454.3 140.0,454.3 134.0,454.3 128.0,454.3 120.0,454.3 112.0,454.3 110.0,454.3 102.0,454.3 100.0,454.3 93.0,454.3 88.0,454.3 82.0,454.3 77.0,454.3 72.0,454.3 65.0,454.3"/>
<polygon fill="#78bfd1" points="65.0,454.3 72.0,454.3 77.0,454.3 82.0,454.3 88.0,454.3 93.0,454.3 100.0,454.3 102.0,454.3 110.0,454.3 112.0,454.3 120.0,454.3 128.0,454.3 134.0,454.3 140.0,454.3 144.0,454.3 150.0,454.3 158.8,454.3 160.0,454.3 165.4,454.3 167.6,454.3 183.0,454.3 194.0,454.3 198.5,454.3 205.0,454.3 207.3,454.3 220.5,454.3 222.7,454.3 229.3,454.3 233.7,454.3 244.7,454.3 244.7,471.9 233.7,470.3 229.3,469.9 222.7,469.4 220.5,469.2 207.3,467.4 205.0,467.1 198.5,466.4 194.0,465.9 183.0,465.2 167.6,465.2 165.4,464.6 160.0,463.0 158.8,462.6 150.0,463.0 144.0,461.2 140.0,460.0 134.0,459.9 128.0,459.7 120.0,456.0 112.0,457.0 110.0,457.2 102.0,458.0 100.0,457.7 93.0,456.5 88.0,455.6 82.0,455.8 77.0,456.0 72.0,455.0 65.0,454.4"/>
<polygon fill="#a2cbd5" points="65.0,454.3 72.0,454.3 77.0,454.3 82.0,454.3 88.0,454.3 93.0,454.3 100.0,454.3 102.0,454.3 110.0,454.3 112.0,454.3 120.0,454.3 128.0,454.3 134.0,454.3 140.0,454.3 144.0,454.3 150.0,454.3 158.8,454.3 160.0,454.3 165.4,454.3 167.6,454.3 183.0,454.3 194.0,454.3 198.5,454.3 205.0,454.3 207.3,454.3 220.5,454.3 222.7,454.3 229.3,454.3 233.7,454.3 244.7,454.3 244.7,454.3 233.7,454.3 229.3,454.3 222.7,454.3 220.5,454.3 207.3,454.3 205.0,454.3 198.5,454.3 194.0,454.3 183.0,454.3 167.6,454.3 165.4,454.3 160.0,454.3 158.8,454.3 150.0,454.3 144.0,454.3 140.0,454.3 134.0,454.3 128.0,454.3 120.0,454.3 112.0,454.3 110.0,454.3 102.0,454.3 100.0,454.3 93.0,454.3 88.0,454.3 82.0,454.3 77.0,454.3 72.0,454.3 65.0,454.3"/>
<line x1="56" y1="379.30" x2="253.2" y2="379.30" stroke="#000" stroke-opacity="0.07" stroke-width="1"/>
<line x1="56" y1="398.50" x2="253.2" y2="398.50" stroke="#000" stroke-opacity="0.07" stroke-width="1"/>
<line x1="56" y1="417.70" x2="253.2" y2="417.70" stroke="#000" stroke-opacity="0.07" stroke-width="1"/>
<line x1="56" y1="436.90" x2="253.2" y2="436.90" stroke="#000" stroke-opacity="0.07" stroke-width="1"/>
<line x1="56" y1="456.10" x2="253.2" y2="456.10" stroke="#000" stroke-opacity="0.07" stroke-width="1"/>
<line x1="56" y1="475.30" x2="253.2" y2="475.30" stroke="#000" stroke-opacity="0.07" stroke-width="1"/>
<polyline fill="none" stroke="#3f7d9c" stroke-width="1.2" stroke-linejoin="round" points="65.0,454.4 72.0,455.0 77.0,456.0 82.0,453.6 88.0,455.0 93.0,454.0 100.0,454.8 102.0,455.0 110.0,452.4 112.0,452.0 120.0,450.4 128.0,452.0 134.0,449.4 140.0,449.8 144.0,450.0 150.0,450.9 158.8,449.6 160.0,449.4 165.4,450.9 167.6,450.7 183.0,449.2 194.0,448.8 198.5,448.7 205.0,447.6 207.3,447.7 220.5,448.0 222.7,448.0 229.3,448.7 233.7,448.4 244.7,447.6"/>
<line x1="65.0" y1="454.30" x2="244.7" y2="454.30" stroke="#3a4a50" stroke-width="0.8" stroke-dasharray="1.7 1.2"/>
<text x="196.10" y="462.50" font-family="Liberation Sans" font-size="7.4" font-weight="normal" fill="#1f333b" textLength="44.40" lengthAdjust="spacingAndGlyphs" stroke="#1f333b" stroke-width="0.25">1983 baseline</text>
<line x1="56" y1="483.00" x2="254.2" y2="483.00" stroke="#575757" stroke-width="1.8"/>
<line x1="75.60" y1="483.00" x2="75.60" y2="486.60" stroke="#575757" stroke-width="1"/>
<text x="65.20" y="497.50" font-family="Liberation Sans" font-size="9.6" font-weight="bold" fill="#3a3a3a" textLength="20.80" lengthAdjust="spacingAndGlyphs">1985</text>
<line x1="102.02" y1="483.00" x2="102.02" y2="486.60" stroke="#575757" stroke-width="1"/>
<text x="91.61" y="497.50" font-family="Liberation Sans" font-size="9.6" font-weight="bold" fill="#3a3a3a" textLength="20.80" lengthAdjust="spacingAndGlyphs">1990</text>
<line x1="128.43" y1="483.00" x2="128.43" y2="486.60" stroke="#575757" stroke-width="1"/>
<text x="118.03" y="497.50" font-family="Liberation Sans" font-size="9.6" font-weight="bold" fill="#3a3a3a" textLength="20.80" lengthAdjust="spacingAndGlyphs">1995</text>
<line x1="154.84" y1="483.00" x2="154.84" y2="486.60" stroke="#575757" stroke-width="1"/>
<text x="144.44" y="497.50" font-family="Liberation Sans" font-size="9.6" font-weight="bold" fill="#3a3a3a" textLength="20.80" lengthAdjust="spacingAndGlyphs">2000</text>
<line x1="181.26" y1="483.00" x2="181.26" y2="486.60" stroke="#575757" stroke-width="1"/>
<text x="170.86" y="497.50" font-family="Liberation Sans" font-size="9.6" font-weight="bold" fill="#3a3a3a" textLength="20.80" lengthAdjust="spacingAndGlyphs">2005</text>
<line x1="207.68" y1="483.00" x2="207.68" y2="486.60" stroke="#575757" stroke-width="1"/>
<text x="197.28" y="497.50" font-family="Liberation Sans" font-size="9.6" font-weight="bold" fill="#3a3a3a" textLength="20.80" lengthAdjust="spacingAndGlyphs">2010</text>
<line x1="234.09" y1="483.00" x2="234.09" y2="486.60" stroke="#575757" stroke-width="1"/>
<text x="223.69" y="497.50" font-family="Liberation Sans" font-size="9.6" font-weight="bold" fill="#3a3a3a" textLength="20.80" lengthAdjust="spacingAndGlyphs">2015</text>
<text x="372.50" y="361.70" font-family="Liberation Sans" font-size="12.3" font-weight="bold" fill="#262626" textLength="44.00" lengthAdjust="spacingAndGlyphs" stroke="#262626" stroke-width="0.25">Stomach</text>
<text x="270.50" y="382.40" font-family="Liberation Sans" font-size="9.5" font-weight="bold" fill="#444444" textLength="23.30" lengthAdjust="spacingAndGlyphs">5,000</text>
<text x="270.50" y="401.60" font-family="Liberation Sans" font-size="9.5" font-weight="bold" fill="#444444" textLength="23.30" lengthAdjust="spacingAndGlyphs">4,000</text>
<text x="270.50" y="420.80" font-family="Liberation Sans" font-size="9.5" font-weight="bold" fill="#444444" textLength="23.30" lengthAdjust="spacingAndGlyphs">3,000</text>
<text x="270.50" y="440.00" font-family="Liberation Sans" font-size="9.5" font-weight="bold" fill="#444444" textLength="23.30" lengthAdjust="spacingAndGlyphs">2,000</text>
<text x="270.50" y="459.20" font-family="Liberation Sans" font-size="9.5" font-weight="bold" fill="#444444" textLength="23.30" lengthAdjust="spacingAndGlyphs">1,000</text>
<text x="270.50" y="478.40" font-family="Liberation Sans" font-size="9.5" font-weight="bold" fill="#444444" textLength="5.90" lengthAdjust="spacingAndGlyphs">0</text>
<line x1="296" y1="379.30" x2="493.2" y2="379.30" stroke="#dadada" stroke-width="1"/>
<line x1="296" y1="398.50" x2="493.2" y2="398.50" stroke="#dadada" stroke-width="1"/>
<line x1="296" y1="417.70" x2="493.2" y2="417.70" stroke="#dadada" stroke-width="1"/>
<line x1="296" y1="436.90" x2="493.2" y2="436.90" stroke="#dadada" stroke-width="1"/>
<line x1="296" y1="456.10" x2="493.2" y2="456.10" stroke="#dadada" stroke-width="1"/>
<line x1="296" y1="475.30" x2="493.2" y2="475.30" stroke="#dadada" stroke-width="1"/>
<polygon fill="#92ddf2" points="305.0,464.0 320.0,464.0 332.0,463.5 336.0,462.8 344.0,463.6 350.0,464.1 356.0,464.5 360.0,464.2 370.0,463.6 376.0,463.2 388.0,462.5 390.0,462.4 396.0,461.6 400.0,461.8 406.0,462.0 416.0,462.2 430.0,462.4 444.6,462.1 455.5,461.8 466.4,461.8 473.0,461.8 479.5,460.7 484.7,460.5 484.7,464.0 479.5,464.0 473.0,464.0 466.4,464.0 455.5,464.0 444.6,464.0 430.0,464.0 416.0,464.0 406.0,464.0 400.0,464.0 396.0,464.0 390.0,464.0 388.0,464.0 376.0,464.0 370.0,464.0 360.0,464.0 356.0,464.0 350.0,464.0 344.0,464.0 336.0,464.0 332.0,464.0 320.0,464.0 305.0,464.0"/>
<polygon fill="#c4eefb" points="305.0,464.0 320.0,464.0 332.0,464.0 336.0,464.0 344.0,464.0 350.0,464.0 356.0,464.0 360.0,464.0 370.0,464.0 376.0,464.0 388.0,464.0 390.0,464.0 396.0,464.0 400.0,464.0 406.0,464.0 416.0,464.0 430.0,464.0 444.6,464.0 455.5,464.0 466.4,464.0 473.0,464.0 479.5,464.0 484.7,464.0 484.7,464.0 479.5,464.0 473.0,464.0 466.4,464.0 455.5,464.0 444.6,464.0 430.0,464.0 416.0,464.0 406.0,464.0 400.0,464.0 396.0,464.0 390.0,464.0 388.0,464.0 376.0,464.0 370.0,464.0 360.0,464.0 356.0,464.0 350.0,464.0 344.0,464.0 336.0,464.0 332.0,464.0 320.0,464.0 305.0,464.0"/>
<polygon fill="#78bfd1" points="305.0,464.0 320.0,464.0 332.0,464.0 336.0,464.0 344.0,464.0 350.0,464.0 356.0,464.0 360.0,464.0 370.0,464.0 376.0,464.0 388.0,464.0 390.0,464.0 396.0,464.0 400.0,464.0 406.0,464.0 416.0,464.0 430.0,464.0 444.6,464.0 455.5,464.0 466.4,464.0 473.0,464.0 479.5,464.0 484.7,464.0 484.7,474.9 479.5,474.8 473.0,474.6 466.4,474.5 455.5,474.1 444.6,473.6 430.0,473.0 416.0,472.0 406.0,470.9 400.0,470.3 396.0,470.2 390.0,470.1 388.0,470.0 376.0,467.8 370.0,467.9 360.0,468.0 356.0,467.6 350.0,467.0 344.0,466.4 336.0,465.5 332.0,465.3 320.0,464.8 305.0,464.0"/>
<polygon fill="#a2cbd5" points="305.0,464.0 320.0,464.0 332.0,464.0 336.0,464.0 344.0,464.0 350.0,464.0 356.0,464.0 360.0,464.0 370.0,464.0 376.0,464.0 388.0,464.0 390.0,464.0 396.0,464.0 400.0,464.0 406.0,464.0 416.0,464.0 430.0,464.0 444.6,464.0 455.5,464.0 466.4,464.0 473.0,464.0 479.5,464.0 484.7,464.0 484.7,464.0 479.5,464.0 473.0,464.0 466.4,464.0 455.5,464.0 444.6,464.0 430.0,464.0 416.0,464.0 406.0,464.0 400.0,464.0 396.0,464.0 390.0,464.0 388.0,464.0 376.0,464.0 370.0,464.0 360.0,464.0 356.0,464.0 350.0,464.0 344.0,464.0 336.0,464.0 332.0,464.0 320.0,464.0 305.0,464.0"/>
<line x1="296" y1="379.30" x2="493.2" y2="379.30" stroke="#000" stroke-opacity="0.07" stroke-width="1"/>
<line x1="296" y1="398.50" x2="493.2" y2="398.50" stroke="#000" stroke-opacity="0.07" stroke-width="1"/>
<line x1="296" y1="417.70" x2="493.2" y2="417.70" stroke="#000" stroke-opacity="0.07" stroke-width="1"/>
<line x1="296" y1="436.90" x2="493.2" y2="436.90" stroke="#000" stroke-opacity="0.07" stroke-width="1"/>
<line x1="296" y1="456.10" x2="493.2" y2="456.10" stroke="#000" stroke-opacity="0.07" stroke-width="1"/>
<line x1="296" y1="475.30" x2="493.2" y2="475.30" stroke="#000" stroke-opacity="0.07" stroke-width="1"/>
<polyline fill="none" stroke="#3f7d9c" stroke-width="1.2" stroke-linejoin="round" points="305.0,464.0 320.0,464.0 332.0,463.5 336.0,462.8 344.0,463.6 350.0,464.1 356.0,464.5 360.0,464.2 370.0,463.6 376.0,463.2 388.0,462.5 390.0,462.4 396.0,461.6 400.0,461.8 406.0,462.0 416.0,462.2 430.0,462.4 444.6,462.1 455.5,461.8 466.4,461.8 473.0,461.8 479.5,460.7 484.7,460.5"/>
<line x1="305.0" y1="464.00" x2="484.7" y2="464.00" stroke="#3a4a50" stroke-width="0.8" stroke-dasharray="1.7 1.2"/>
<text x="436.10" y="472.20" font-family="Liberation Sans" font-size="7.4" font-weight="normal" fill="#1f333b" textLength="44.40" lengthAdjust="spacingAndGlyphs" stroke="#1f333b" stroke-width="0.25">1983 baseline</text>
<line x1="296" y1="483.00" x2="494.2" y2="483.00" stroke="#575757" stroke-width="1.8"/>
<line x1="315.60" y1="483.00" x2="315.60" y2="486.60" stroke="#575757" stroke-width="1"/>
<text x="305.20" y="497.50" font-family="Liberation Sans" font-size="9.6" font-weight="bold" fill="#3a3a3a" textLength="20.80" lengthAdjust="spacingAndGlyphs">1985</text>
<line x1="342.02" y1="483.00" x2="342.02" y2="486.60" stroke="#575757" stroke-width="1"/>
<text x="331.62" y="497.50" font-family="Liberation Sans" font-size="9.6" font-weight="bold" fill="#3a3a3a" textLength="20.80" lengthAdjust="spacingAndGlyphs">1990</text>
<line x1="368.43" y1="483.00" x2="368.43" y2="486.60" stroke="#575757" stroke-width="1"/>
<text x="358.03" y="497.50" font-family="Liberation Sans" font-size="9.6" font-weight="bold" fill="#3a3a3a" textLength="20.80" lengthAdjust="spacingAndGlyphs">1995</text>
<line x1="394.85" y1="483.00" x2="394.85" y2="486.60" stroke="#575757" stroke-width="1"/>
<text x="384.45" y="497.50" font-family="Liberation Sans" font-size="9.6" font-weight="bold" fill="#3a3a3a" textLength="20.80" lengthAdjust="spacingAndGlyphs">2000</text>
<line x1="421.26" y1="483.00" x2="421.26" y2="486.60" stroke="#575757" stroke-width="1"/>
<text x="410.86" y="497.50" font-family="Liberation Sans" font-size="9.6" font-weight="bold" fill="#3a3a3a" textLength="20.80" lengthAdjust="spacingAndGlyphs">2005</text>
<line x1="447.68" y1="483.00" x2="447.68" y2="486.60" stroke="#575757" stroke-width="1"/>
<text x="437.28" y="497.50" font-family="Liberation Sans" font-size="9.6" font-weight="bold" fill="#3a3a3a" textLength="20.80" lengthAdjust="spacingAndGlyphs">2010</text>
<line x1="474.09" y1="483.00" x2="474.09" y2="486.60" stroke="#575757" stroke-width="1"/>
<text x="463.69" y="497.50" font-family="Liberation Sans" font-size="9.6" font-weight="bold" fill="#3a3a3a" textLength="20.80" lengthAdjust="spacingAndGlyphs">2015</text>
</svg>
</body></html>
